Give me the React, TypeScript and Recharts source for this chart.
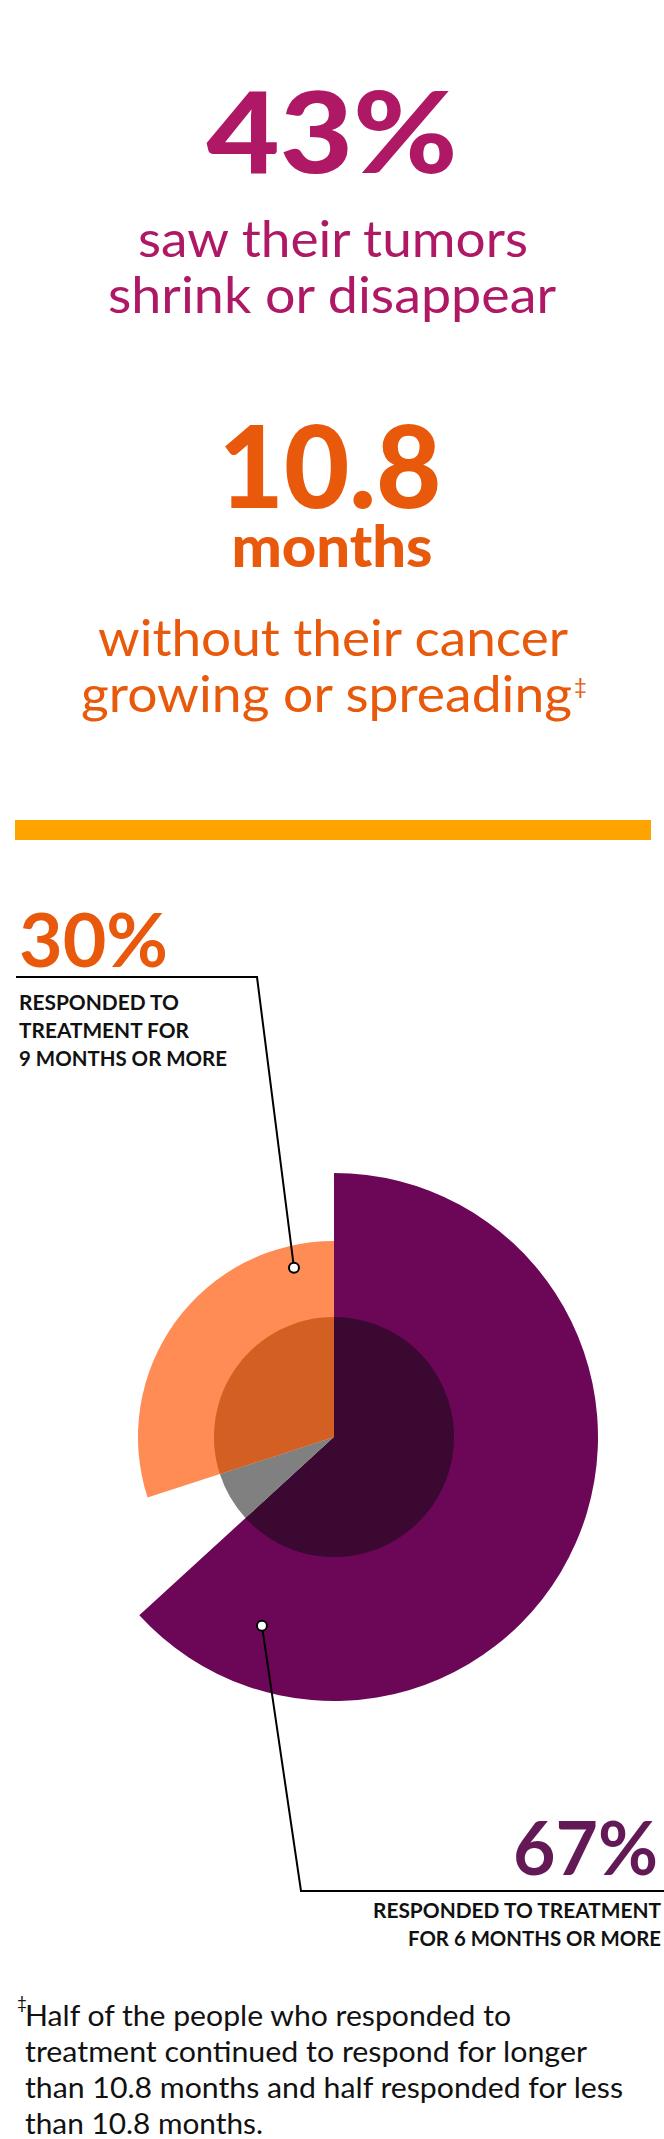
import React from 'react';
import { PieChart, Pie, Cell } from 'recharts';

// ---- data ----
const headlineValues = ['43%', '10.8'];
const headlineUnit = 'months';
const headlineCaptions = [
  ['saw their tumors', 'shrink or disappear'],
  ['without their cancer', 'growing or spreading'],
];
const ringLabels = ['30%', '67%'];
const ringCaptions = [
  ['RESPONDED TO', 'TREATMENT FOR', '9 MONTHS OR MORE'],
  ['RESPONDED TO TREATMENT', 'FOR 6 MONTHS OR MORE'],
];
// arc shares as drawn (percent of full circle)
const orangeArc = [
  { name: '9 months or more', value: 30 },
  { name: 'rest', value: 70 },
];
const purpleArc = [
  { name: '6 months or more', value: 63.2 },
  { name: 'rest', value: 36.8 },
];
const innerArc = [
  { name: '6 months or more', value: 63.2 },
  { name: 'neither', value: 6.8 },
  { name: '9 months or more', value: 30 },
];
const footnoteLines = [
  'Half of the people who responded to',
  'treatment continued to respond for longer',
  'than 10.8 months and half responded for less',
  'than 10.8 months.',
];

// ---- styles ----
const MAGENTA = '#AE1865';
const ORANGE_TXT = '#E8590C';
const BAR = '#FDA400';
const ORANGE_RING = '#FF8C55';
const ORANGE_INNER = '#D35F22';
const GRAY = '#808080';
const PURPLE_RING = '#6C0757';
const PURPLE_INNER = '#3A0830';
const PURPLE_TXT = '#631955';
const INK = '#111111';
const FONT = 'Lato, sans-serif';
const FIT = 'spacingAndGlyphs';

const CX = 334;
const CY = 1437;
const R_INNER = 120;
const R_ORANGE = 196;
const R_PURPLE = 264;

const polar = (angle: number, r: number) => {
  const rad = (angle * Math.PI) / 180;
  return { x: CX + r * Math.cos(rad), y: CY - r * Math.sin(rad) };
};

export default function App() {
  const dotTop = polar(103.3, 174);
  const dotBottom = polar(249.1, 202);
  return (
    <div style={{ position: 'relative', width: 664, height: 2139, background: '#fff', overflow: 'hidden' }}>
      <style>{`body{margin:0;}`}</style>
      <div style={{ position: 'absolute', left: 0, top: 0 }}>
        <PieChart width={664} height={2139} margin={{ top: 0, right: 0, bottom: 0, left: 0 }}>
          <Pie
            data={orangeArc}
            dataKey="value"
            cx={CX}
            cy={CY}
            innerRadius={0}
            outerRadius={R_ORANGE}
            startAngle={90}
            endAngle={450}
            stroke="none"
            isAnimationActive={false}
          >
            {orangeArc.map((d, i) => (
              <Cell key={i} fill={i === 0 ? ORANGE_RING : 'none'} stroke="none" />
            ))}
          </Pie>
          <Pie
            data={purpleArc}
            dataKey="value"
            cx={CX}
            cy={CY}
            innerRadius={0}
            outerRadius={R_PURPLE}
            startAngle={90}
            endAngle={-270}
            stroke="none"
            isAnimationActive={false}
          >
            {purpleArc.map((d, i) => (
              <Cell key={i} fill={i === 0 ? PURPLE_RING : 'none'} stroke="none" />
            ))}
          </Pie>
          <Pie
            data={innerArc}
            dataKey="value"
            cx={CX}
            cy={CY}
            innerRadius={0}
            outerRadius={R_INNER}
            startAngle={90}
            endAngle={-270}
            stroke="none"
            isAnimationActive={false}
          >
            {innerArc.map((d, i) => (
              <Cell key={i} fill={[PURPLE_INNER, GRAY, ORANGE_INNER][i]} stroke="none" />
            ))}
          </Pie>
        </PieChart>
      </div>
      <svg
        width={664}
        height={2139}
        style={{ position: 'absolute', left: 0, top: 0, pointerEvents: 'none' }}
        fontFamily={FONT}
      >
        {/* headline 1 */}
        <text x={332} y={173} textAnchor="middle" fontSize={113} fontWeight={900} fill={MAGENTA} textLength={251} lengthAdjust={FIT}>
          {headlineValues[0]}
        </text>
        <text x={333} y={257} textAnchor="middle" fontSize={50} fill={MAGENTA} textLength={390} lengthAdjust={FIT}>
          {headlineCaptions[0][0]}
        </text>
        <text x={332} y={313} textAnchor="middle" fontSize={50} fill={MAGENTA} textLength={448} lengthAdjust={FIT}>
          {headlineCaptions[0][1]}
        </text>
        {/* headline 2 */}
        <text x={330} y={508} textAnchor="middle" fontSize={114} fontWeight={900} fill={ORANGE_TXT} textLength={223} lengthAdjust={FIT}>
          {headlineValues[1]}
        </text>
        <text x={332} y={567} textAnchor="middle" fontSize={58} fontWeight={900} fill={ORANGE_TXT} textLength={201} lengthAdjust={FIT}>
          {headlineUnit}
        </text>
        <text x={333} y={656} textAnchor="middle" fontSize={50} fill={ORANGE_TXT} textLength={470} lengthAdjust={FIT}>
          {headlineCaptions[1][0]}
        </text>
        <text x={81} y={712} fontSize={50} fill={ORANGE_TXT} textLength={491} lengthAdjust={FIT}>
          {headlineCaptions[1][1]}
        </text>
        <text x={574} y={694} fontSize={22} fill={ORANGE_TXT}>
          ‡
        </text>
        {/* divider */}
        <rect x={15} y={820} width={636} height={20} fill={BAR} />

        {/* top label */}
        <text x={19} y={967} fontSize={74} fontWeight={700} fill={ORANGE_TXT} textLength={149} lengthAdjust={FIT}>
          {ringLabels[0]}
        </text>
        {ringCaptions[0].map((t, i) => (
          <text
            key={t}
            x={19}
            y={1010 + i * 28}
            fontSize={21}
            fontWeight={700}
            fill={INK}
            textLength={[160, 170, 208][i]}
            lengthAdjust={FIT}
          >
            {t}
          </text>
        ))}
        <polyline
          points={`16,977 257,977 ${dotTop.x},${dotTop.y}`}
          fill="none"
          stroke="#000"
          strokeWidth={2}
        />
        <circle cx={dotTop.x} cy={dotTop.y} r={5} fill="#fff" stroke="#000" strokeWidth={2} />

        {/* bottom label */}
        <polyline
          points={`${dotBottom.x},${dotBottom.y} 301,1891 664,1891`}
          fill="none"
          stroke="#000"
          strokeWidth={2}
        />
        <circle cx={dotBottom.x} cy={dotBottom.y} r={5} fill="#fff" stroke="#000" strokeWidth={2} />
        <text x={658} y={1875} textAnchor="end" fontSize={74} fontWeight={700} fill={PURPLE_TXT} textLength={145} lengthAdjust={FIT}>
          {ringLabels[1]}
        </text>
        {ringCaptions[1].map((t, i) => (
          <text
            key={t}
            x={661}
            y={1918 + i * 28}
            textAnchor="end"
            fontSize={21}
            fontWeight={700}
            fill={INK}
            textLength={[288, 253][i]}
            lengthAdjust={FIT}
          >
            {t}
          </text>
        ))}

        {/* footnote */}
        <text x={17} y={2009} fontSize={17} fill={INK}>
          ‡
        </text>
        {footnoteLines.map((t, i) => (
          <text
            key={i}
            x={25}
            y={2026 + i * 36}
            fontSize={28}
            fill={INK}
            textLength={[486, 562, 598, 238][i]}
            lengthAdjust={FIT}
          >
            {t}
          </text>
        ))}
      </svg>
    </div>
  );
}
